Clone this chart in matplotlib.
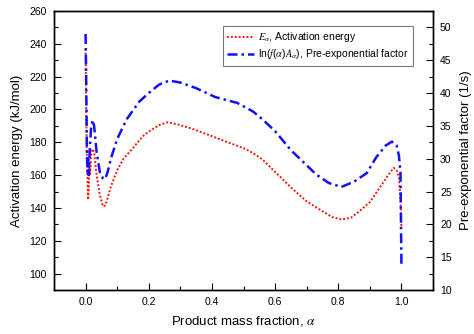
import matplotlib
matplotlib.use("Agg")
import matplotlib.pyplot as plt
from matplotlib.ticker import MultipleLocator

plt.rcParams['font.family'] = ['Liberation Sans', 'DejaVu Sans']
plt.rcParams['mathtext.fontset'] = 'stix'

# Activation energy E_alpha (left axis, kJ/mol)
alpha_E = [0.0, 0.002, 0.004, 0.006, 0.008, 0.010, 0.012, 0.014, 0.017, 0.022,
           0.027, 0.035, 0.045, 0.055, 0.062, 0.07, 0.08, 0.10, 0.12, 0.15,
           0.18, 0.20, 0.233, 0.26, 0.29, 0.33, 0.39, 0.45, 0.50, 0.53,
           0.56, 0.60, 0.65, 0.70, 0.75, 0.78, 0.81, 0.84, 0.87, 0.90,
           0.93, 0.96, 0.975, 0.985, 0.992, 0.997, 1.0]
E_alpha = [237, 200, 170, 158, 145, 150, 168, 160, 172, 176,
           174, 160, 148, 141, 141.5, 146, 153, 163, 170, 176.5,
           183.5, 186.5, 190.5, 192.2, 191, 188.7, 184.5, 180, 176.5, 173.5,
           169.5, 162, 152.5, 144, 138, 134.5, 133, 134, 138.5, 143.5,
           152, 160.5, 164.4, 163, 159, 145, 128]

# Pre-exponential factor ln(f(alpha)A_alpha) (right axis, 1/s)
alpha_A = [0.0, 0.002, 0.004, 0.006, 0.008, 0.010, 0.013, 0.017, 0.022, 0.027,
           0.035, 0.045, 0.055, 0.062, 0.07, 0.08, 0.10, 0.13, 0.17, 0.20,
           0.233, 0.265, 0.30, 0.35, 0.41, 0.48, 0.53, 0.56, 0.60, 0.65,
           0.70, 0.73, 0.77, 0.81, 0.85, 0.89, 0.92, 0.95, 0.97, 0.985,
           0.992, 0.997, 1.0]
lnA = [49, 42, 32, 28, 30, 27.5, 31, 34.5, 35.9, 35,
       31, 28, 27, 26.9, 28, 30, 33, 36, 38.7, 40,
       41.3, 41.9, 41.6, 40.75, 39.4, 38.5, 37.2, 36, 34.2, 31.3,
       29, 27.6, 26.3, 25.7, 26.5, 27.8, 30.2, 32, 32.6, 32,
       30.5, 28, 13.9]

fig = plt.figure(figsize=(4.74, 3.34), dpi=100)
ax = fig.add_axes([54/474, 44/334, 379/474, 279/334])
ax2 = ax.twinx()

l1, = ax.plot(alpha_E, E_alpha, color='#ff1010', linestyle=(0, (1, 1)), linewidth=1.4,
              label=r'$E_\alpha$, Activation energy')
l2, = ax2.plot(alpha_A, lnA, color='#1010ff', linestyle=(0, (4, 1.6, 1, 1.6)), linewidth=1.8,
               label=r'ln($f$($\alpha$)$A_\alpha$), Pre-exponential factor')

ax.set_xlim(-0.1, 1.1)
ax.set_ylim(90, 260)
ax2.set_ylim(10, 52.5)

ax.xaxis.set_minor_locator(MultipleLocator(0.1))
ax.yaxis.set_minor_locator(MultipleLocator(10))
ax2.yaxis.set_minor_locator(MultipleLocator(2.5))

ax.set_xticks([0.0, 0.2, 0.4, 0.6, 0.8, 1.0])
ax.set_xticklabels(['0.0', '0.2', '0.4', '0.6', '0.8', '1.0'])
ax.set_yticks([100, 120, 140, 160, 180, 200, 220, 240, 260])
ax2.set_yticks([10, 15, 20, 25, 30, 35, 40, 45, 50])

for a in (ax, ax2):
    a.tick_params(which='major', direction='in', length=5, width=0.8, labelsize=7.5, pad=5)
    a.tick_params(which='minor', direction='in', length=3, width=0.8)
    for s in a.spines.values():
        s.set_linewidth(1.0)
ax.tick_params(axis='y', right=False)
ax.tick_params(axis='x', top=False)
ax.tick_params(axis='x', which='minor', top=False)
ax.tick_params(axis='y', which='minor', right=False)

ax.set_xlabel(r'Product mass fraction, $\alpha$', fontsize=9.5, labelpad=5)
ax.set_ylabel('Activation energy (kJ/mol)', fontsize=9.5, labelpad=5)
ax2.set_ylabel('Pre-exponential factor (1/s)', fontsize=9.5, labelpad=6)

leg = ax.legend(handles=[l1, l2], loc='upper right', bbox_to_anchor=(0.947, 0.946),
                borderaxespad=0, fontsize=7.5, frameon=True, fancybox=False,
                handlelength=2.6, handletextpad=0.4, borderpad=0.4, labelspacing=0.3)
leg.get_frame().set_edgecolor('#555555')
leg.get_frame().set_linewidth(0.8)

fig.savefig('out.png', dpi=100)
